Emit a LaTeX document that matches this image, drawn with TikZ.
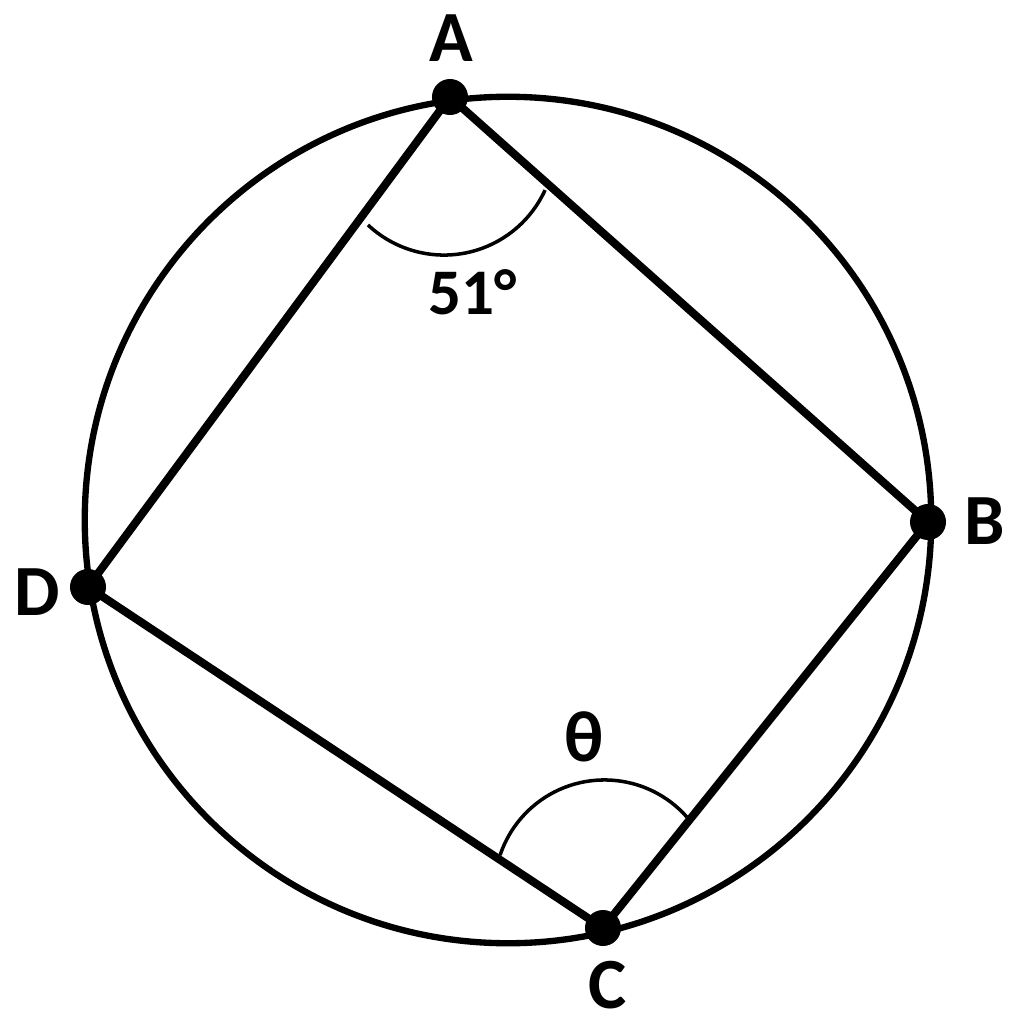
\documentclass[tikz,border=0pt]{standalone}
\usepackage{fontspec}
\setmainfont{Carlito}
\begin{document}
\begin{tikzpicture}[x=0.01cm,y=-0.01cm,
  dot/.style={circle,fill=black,inner sep=0pt,minimum size=0.36cm},
  lbl/.style={font=\fontsize{20.5}{24}\selectfont\bfseries,inner sep=0pt},
  side/.style={line width=2.3pt},
  anglearc/.style={line width=1.0pt}]
\useasboundingbox (0,0) rectangle (1024,1021);
\coordinate (O) at (508,520);
\draw[line width=1.8pt] (O) circle[radius=4.23cm];
\node[dot] (A) at (450,97) {};
\node[dot] (B) at (928,522) {};
\node[dot] (C) at (603,928) {};
\node[dot] (D) at (88,587) {};
\draw[side,line join=round] (A.center) -- (B.center) -- (C.center) -- (D.center) -- cycle;
\coordinate (oA) at (444,144);
\coordinate (oC) at (604.5,890);
\draw[anglearc] ([shift={(226.8:1.11cm)}]oA) arc[start angle=226.8,end angle=335.5,radius=1.11cm];
\draw[anglearc] ([shift={(41.5:1.10cm)}]oC) arc[start angle=41.5,end angle=161.5,radius=1.10cm];
\node[lbl] (lA) at (451,38) {A};
\node[lbl] (lB) at (985,521) {B};
\node[lbl] (lC) at (608,985) {C};
\node[lbl] (lD) at (37,592) {D};
\node[font=\fontsize{18.5}{22}\selectfont\bfseries,inner sep=0pt] (ang) at (473,292) {51°};
\node[lbl] (th) at (584,737) {θ};
\end{tikzpicture}
\end{document}
